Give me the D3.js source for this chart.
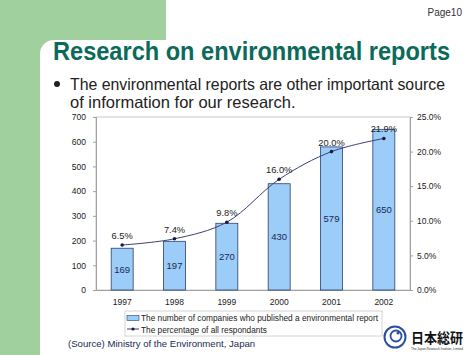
<!DOCTYPE html>
<html>
<head>
<meta charset="utf-8">
<script src="https://cdn.jsdelivr.net/npm/d3@7"></script>
<style>
  body { margin: 0; background: #fff; }
  svg text { font-family: "Liberation Sans", Arial, sans-serif; }
</style>
</head>
<body>
<script>
// data
const years = ["1997", "1998", "1999", "2000", "2001", "2002"];
const companies = [169, 197, 270, 430, 579, 650];
const percents = [6.5, 7.4, 9.8, 16.0, 20.0, 21.9];
const leftTicks = [0, 100, 200, 300, 400, 500, 600, 700];
const rightTicks = [0, 5, 10, 15, 20, 25];
const legendLabels = [
  "The number of companies who published a environmental report",
  "The percentage of all respondants"
];

const W = 474, H = 355;
const svg = d3.select("body").append("svg").attr("width", W).attr("height", H);

// slide background: green corner + strip
svg.append("rect").attr("x", 0).attr("y", 0).attr("width", 166).attr("height", 40).attr("fill", "#9fd09e");
svg.append("rect").attr("x", 0).attr("y", 0).attr("width", 40).attr("height", H).attr("fill", "#9fd09e");
svg.append("path")
  .attr("d", "M40,40 L54,40 A14,14 0 0,0 40,54 Z")
  .attr("fill", "#9fd09e");

svg.append("text").attr("x", 462).attr("y", 16).attr("text-anchor", "end")
  .attr("font-size", 10).attr("fill", "#333").text("Page10");

svg.append("text").attr("x", 53).attr("y", 60)
  .attr("font-size", 25).attr("font-weight", "bold").attr("fill", "#0b6a5a")
  .attr("textLength", 397).attr("lengthAdjust", "spacingAndGlyphs")
  .text("Research on environmental reports");

svg.append("circle").attr("cx", 57).attr("cy", 84).attr("r", 3).attr("fill", "#222");
svg.append("text").attr("x", 70).attr("y", 90).attr("font-size", 16.5).attr("fill", "#222")
  .attr("textLength", 375).attr("lengthAdjust", "spacingAndGlyphs")
  .text("The environmental reports are other important source");
svg.append("text").attr("x", 70).attr("y", 108).attr("font-size", 16.5).attr("fill", "#222")
  .text("of information for our research.");

// chart
const plot = { left: 96, right: 410, top: 117, bottom: 290 };
const x = d3.scaleBand().domain(years).range([plot.left, plot.right]).paddingInner(0.58).paddingOuter(0.29);
const yL = d3.scaleLinear().domain([0, 700]).range([plot.bottom, plot.top]);
const yR = d3.scaleLinear().domain([0, 25]).range([plot.bottom, plot.top]);

svg.append("rect").attr("x", plot.left).attr("y", plot.top)
  .attr("width", plot.right - plot.left).attr("height", plot.bottom - plot.top)
  .attr("fill", "none").attr("stroke", "#c8c8c8").attr("stroke-width", 1);

const axL = svg.append("g").attr("transform", `translate(${plot.left},0)`)
  .call(d3.axisLeft(yL).tickValues(leftTicks).tickSize(3).tickPadding(7));
const axR = svg.append("g").attr("transform", `translate(${plot.right},0)`)
  .call(d3.axisRight(yR).tickValues(rightTicks).tickSize(3).tickPadding(4)
    .tickFormat(d => d.toFixed(1) + "%"));
const axB = svg.append("g").attr("transform", `translate(0,${plot.bottom})`)
  .call(d3.axisBottom(x).tickSize(0).tickPadding(9));
[axL, axR, axB].forEach(g => {
  g.select(".domain").attr("stroke", "#a0a0a0");
  g.selectAll(".tick line").attr("stroke", "#a0a0a0");
  g.selectAll(".tick text").attr("font-size", 8.5).attr("fill", "#222");
});

svg.append("g").selectAll("rect").data(companies).join("rect")
  .attr("x", (d, i) => x(years[i]))
  .attr("y", d => yL(d))
  .attr("width", x.bandwidth())
  .attr("height", d => plot.bottom - yL(d))
  .attr("fill", "#9cccf8").attr("stroke", "#2a3f6e").attr("stroke-width", 0.8);

svg.append("g").selectAll("text").data(companies).join("text")
  .attr("x", (d, i) => x(years[i]) + x.bandwidth() / 2)
  .attr("y", d => (yL(d) + plot.bottom) / 2 + 3.5)
  .attr("text-anchor", "middle").attr("font-size", 9.5).attr("fill", "#1a2a55")
  .text(d => d);

const cx = (d, i) => x(years[i]) + x.bandwidth() / 2;
const line = d3.line().x((d, i) => cx(d, i)).y(d => yR(d)).curve(d3.curveCatmullRom.alpha(0.5));
svg.append("path").datum(percents).attr("d", line)
  .attr("fill", "none").attr("stroke", "#3c3f7a").attr("stroke-width", 1);
svg.append("g").selectAll("circle").data(percents).join("circle")
  .attr("cx", cx).attr("cy", d => yR(d)).attr("r", 1.8).attr("fill", "#141a4a");
svg.append("g").selectAll("text").data(percents).join("text")
  .attr("x", cx).attr("y", d => yR(d) - 6)
  .attr("text-anchor", "middle").attr("font-size", 9.3).attr("fill", "#222")
  .text(d => d.toFixed(1) + "%");

// legend
const lg = svg.append("g");
lg.append("rect").attr("x", 125).attr("y", 311).attr("width", 257).attr("height", 25)
  .attr("fill", "none").attr("stroke", "#d4d4d4");
lg.append("rect").attr("x", 127).attr("y", 315.5).attr("width", 12).attr("height", 5)
  .attr("fill", "#9cccf8").attr("stroke", "#2a3f6e").attr("stroke-width", 0.6);
lg.append("line").attr("x1", 127).attr("x2", 139).attr("y1", 329).attr("y2", 329)
  .attr("stroke", "#3c3f7a");
lg.append("circle").attr("cx", 133).attr("cy", 329).attr("r", 1.6).attr("fill", "#141a4a");
legendLabels.forEach((t, i) => {
  lg.append("text").attr("x", 141).attr("y", 321 + i * 11.5)
    .attr("font-size", 8.3).attr("fill", "#222").text(t);
});

svg.append("text").attr("x", 68).attr("y", 347).attr("font-size", 9.6).attr("fill", "#1a2a55")
  .text("(Source) Ministry of the Environment, Japan");

// logo
const logo = svg.append("g");
logo.append("circle").attr("cx", 395).attr("cy", 337).attr("r", 10.5)
  .attr("fill", "none").attr("stroke", "#2b4ea0").attr("stroke-width", 2);
logo.append("circle").attr("cx", 396).attr("cy", 336).attr("r", 5.5)
  .attr("fill", "none").attr("stroke", "#2b4ea0").attr("stroke-width", 1.8);
logo.append("circle").attr("cx", 398).attr("cy", 333).attr("r", 1.5).attr("fill", "#2b4ea0");
logo.append("text").attr("x", 411).attr("y", 343).attr("font-size", 14).attr("font-weight", "bold")
  .attr("fill", "#111").style("font-family", "'Noto Sans CJK JP', sans-serif")
  .attr("textLength", 52).attr("lengthAdjust", "spacingAndGlyphs").text("日本総研");
logo.append("text").attr("x", 411).attr("y", 350).attr("font-size", 3.2).attr("fill", "#333")
  .attr("textLength", 52).text("The Japan Research Institute, Limited");
</script>
</body>
</html>
